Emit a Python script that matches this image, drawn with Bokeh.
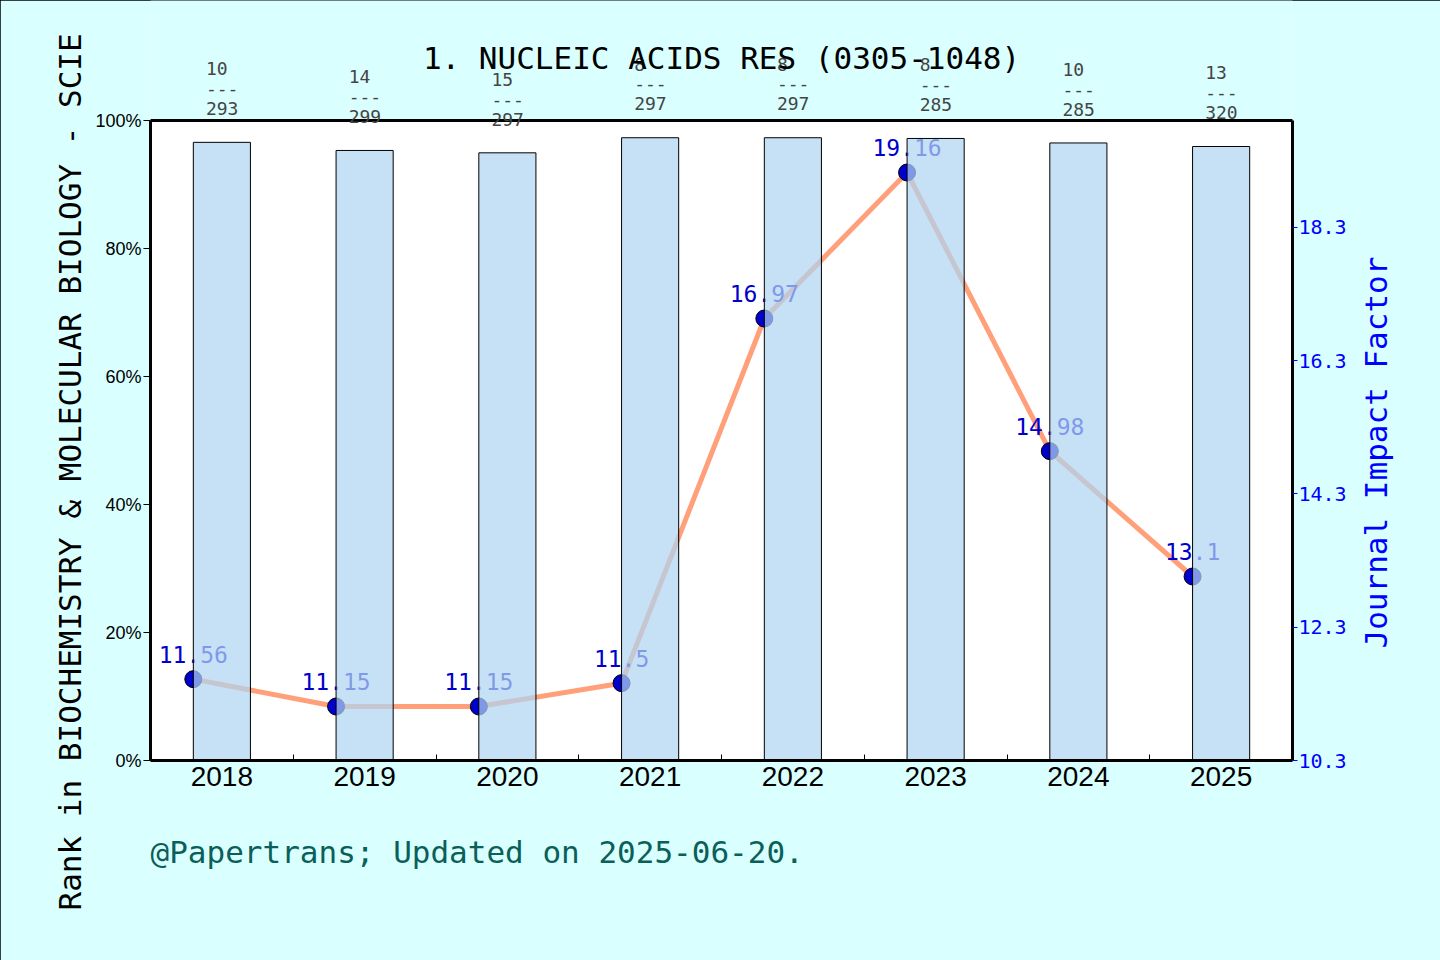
import math
import numpy as np
from bokeh.plotting import figure
from bokeh.models import (ColumnDataSource, LinearAxis, Range1d, FixedTicker,
                          PrintfTickFormatter, NumeralTickFormatter, Label, Title)
from bokeh.core.properties import value
from bokeh.embed import file_html
from bokeh.resources import INLINE

years = ["2018", "2019", "2020", "2021", "2022", "2023", "2024", "2025"]
rank = [10, 14, 15, 8, 8, 8, 10, 13]
total = [293, 299, 297, 297, 297, 285, 285, 320]
impact = [11.56, 11.15, 11.15, 11.5, 16.97, 19.16, 14.98, 13.1]
pct_ticks = [0, 20, 40, 60, 80, 100]
if_ticks = [10.34, 12.34, 14.34, 16.34, 18.34]

MONO = "DejaVu Sans Mono"
SANS = "Liberation Sans"
CYAN = "#d9ffff"

n = len(years)
pos = np.arange(n) + 0.5
pct = [(t - r) / t * 100 for r, t in zip(rank, total)]

# the frame reaches the top of the canvas so the rank notes above the box are not clipped
frame_h, box_h = 760, 640
y_top = 100 * frame_h / box_h
jif_span = 9.6
jif_top = if_ticks[0] + jif_span * frame_h / box_h

src = ColumnDataSource(data=dict(
    x=pos,
    pct=pct,
    line_x=pos - 0.2,
    impact=impact,
    if_text=["%g" % v for v in impact],
    rank_text=["%d\n---\n%d" % (r, t) for r, t in zip(rank, total)],
    rank_y=[v + 8.4 for v in pct],
))

p = figure(width=1440, height=960,
           x_range=Range1d(0, n), y_range=Range1d(0, y_top),
           output_backend="svg", toolbar_location=None, title_location=None,
           min_border_left=150, min_border_right=148, min_border_top=0, min_border_bottom=200,
           border_fill_color=CYAN, background_fill_color=CYAN, outline_line_color=None)
p.styles = {"outline": "1px solid black", "outline-offset": "-1px"}
p.grid.visible = False

p.extra_y_ranges = {"jif": Range1d(if_ticks[0], jif_top)}

# white plot box
p.quad(left=[0], right=[n], bottom=[pct_ticks[0]], top=[pct_ticks[-1]],
       fill_color="white", line_color="black", line_width=3)

# impact factor line (drawn first so the bars tint it)
p.line("line_x", "impact", source=src, y_range_name="jif", line_color="#ffa07a", line_width=5)
p.scatter("line_x", "impact", source=src, y_range_name="jif", size=17,
          fill_color="#0000cd", line_color="black", line_width=1)
p.text("line_x", "impact", text="if_text", source=src, y_range_name="jif",
       text_font=value(MONO), text_font_size="23px", text_color="#0000cd",
       text_align="center", text_baseline="alphabetic", y_offset=-25)

# rank percentile bars
p.vbar(x="x", top="pct", width=0.4, source=src,
       fill_color="#b0d4f2", fill_alpha=0.72, line_color="black", line_width=1, line_alpha=1)

p.text("x", "rank_y", text="rank_text", source=src,
       text_font=value(MONO), text_font_size="18px", text_color="#444444",
       text_align="left", text_baseline="middle", text_line_height=0.95, x_offset=-16)

p.add_layout(Label(x=n / 2, y=(frame_h - 57) / box_h * 100,
                   text="1. NUCLEIC ACIDS RES (0305-1048)",
                   text_font=MONO, text_font_size="31px", text_color="black",
                   text_align="center", text_baseline="middle"))

# bottom axis
xa = p.xaxis[0]
xa.ticker = FixedTicker(ticks=list(pos), minor_ticks=list(range(1, n)))
xa.major_label_overrides = {float(x): y for x, y in zip(pos, years)}
xa.major_tick_line_color = None
xa.minor_tick_in = 6
xa.minor_tick_out = 0
xa.minor_tick_line_color = "black"
xa.axis_line_color = "black"
xa.axis_line_width = 3
xa.major_label_text_font = SANS
xa.major_label_text_font_size = "28px"
xa.major_label_text_color = "black"
xa.major_label_standoff = 0

# left axis
ya = p.yaxis[0]
ya.ticker = FixedTicker(ticks=pct_ticks)
ya.formatter = PrintfTickFormatter(format="%d%%")
ya.bounds = (pct_ticks[0], pct_ticks[-1])
ya.major_tick_out = 7
ya.major_tick_in = 0
ya.minor_tick_line_color = None
ya.axis_line_color = "black"
ya.axis_line_width = 3
ya.major_label_text_font = SANS
ya.major_label_text_font_size = "18px"
ya.major_label_text_color = "black"
ya.major_label_standoff = 2

p.add_layout(Title(text="Rank in BIOCHEMISTRY & MOLECULAR BIOLOGY - SCIE",
                   align="left", offset=-150, standoff=10,
                   text_font=MONO, text_font_size="31px", text_font_style="normal",
                   text_color="black"), "left")

# right axis
ra = LinearAxis(y_range_name="jif", ticker=FixedTicker(ticks=if_ticks),
                formatter=NumeralTickFormatter(format="0.0"))
ra.bounds = (if_ticks[0], if_ticks[0] + jif_span)
ra.major_tick_out = 5
ra.major_tick_in = 0
ra.minor_tick_line_color = None
ra.axis_line_color = "black"
ra.axis_line_width = 3
ra.major_tick_line_color = "blue"
ra.major_label_text_font = MONO
ra.major_label_text_font_size = "20px"
ra.major_label_text_color = "blue"
ra.major_label_standoff = 1
p.add_layout(ra, "right")

# right-hand title, written upwards from the point where the reference starts it
jif_label_at = if_ticks[0] + (frame_h - 648) / box_h * jif_span
rt = LinearAxis(y_range_name="jif", ticker=FixedTicker(ticks=[jif_label_at]))
rt.major_label_overrides = {jif_label_at: "Journal Impact Factor"}
rt.major_label_orientation = math.pi / 2
rt.major_label_text_font = MONO
rt.major_label_text_font_size = "31px"
rt.major_label_text_color = "blue"
rt.major_label_standoff = 20
rt.major_tick_line_color = None
rt.minor_tick_line_color = None
rt.axis_line_color = None
p.add_layout(rt, "right")

p.add_layout(Title(text="@Papertrans; Updated on 2025-06-20.", align="left", standoff=86,
                   text_font=MONO, text_font_size="31px", text_font_style="normal",
                   text_color="#0b5f5a"), "below")

open("out.html", "w").write(file_html(p, INLINE))
